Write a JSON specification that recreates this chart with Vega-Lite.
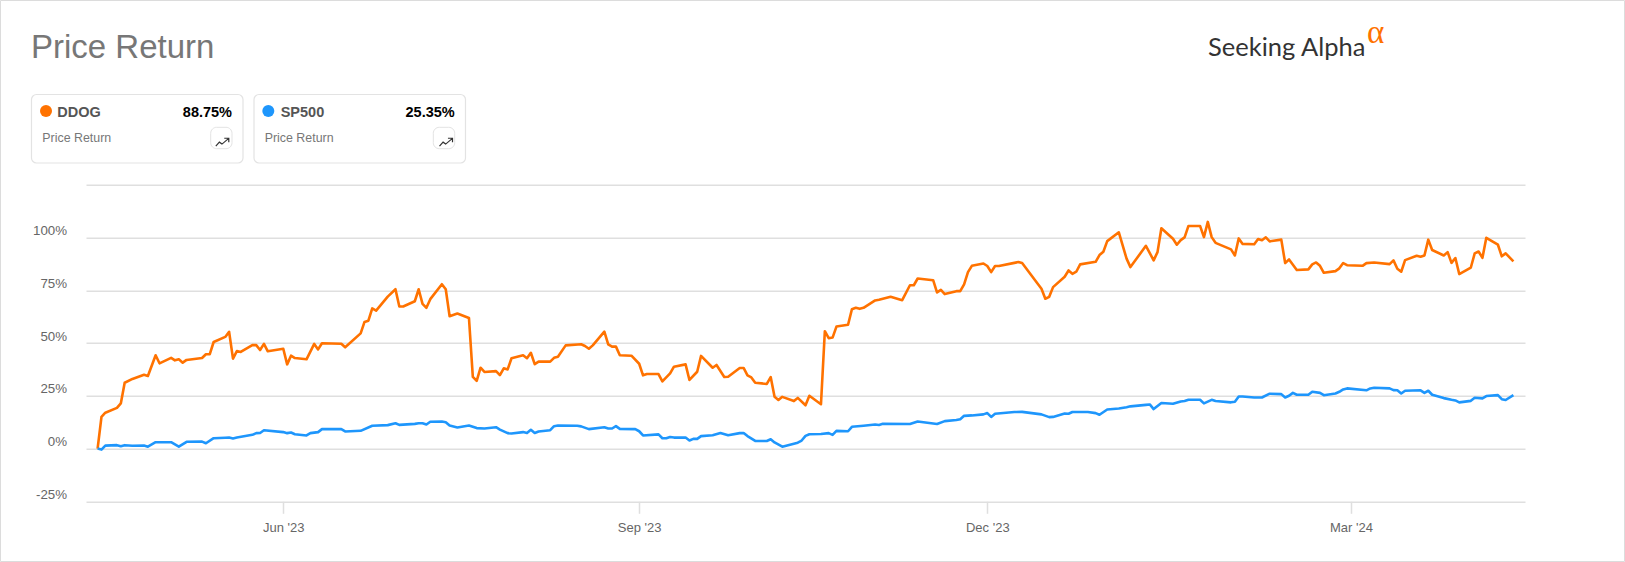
{"$schema":"https://vega.github.io/schema/vega-lite/v6.json","width":1439,"height":316.5,"autosize":"none","padding":{"left":86,"top":184.8,"right":100,"bottom":60.7},"background":"white","view":{"stroke":null},"config":{"font":"Liberation Sans"},
"datasets":{
"DDOG":[{"d":"2023-04-14","v":0},{"d":"2023-04-15","v":15},{"d":"2023-04-16","v":17},{"d":"2023-04-19","v":19.3},{"d":"2023-04-20","v":21.4},{"d":"2023-04-21","v":31.2},{"d":"2023-04-23","v":33},{"d":"2023-04-26","v":35},{"d":"2023-04-27","v":34.4},{"d":"2023-04-29","v":44.2},{"d":"2023-04-30","v":40.4},{"d":"2023-05-03","v":43},{"d":"2023-05-04","v":41.8},{"d":"2023-05-05","v":42.3},{"d":"2023-05-06","v":40.7},{"d":"2023-05-07","v":42},{"d":"2023-05-11","v":42.9},{"d":"2023-05-12","v":44.7},{"d":"2023-05-13","v":44.7},{"d":"2023-05-14","v":50.5},{"d":"2023-05-17","v":52.9},{"d":"2023-05-18","v":55.3},{"d":"2023-05-19","v":42.6},{"d":"2023-05-20","v":46.2},{"d":"2023-05-21","v":45.8},{"d":"2023-05-24","v":49},{"d":"2023-05-25","v":49},{"d":"2023-05-26","v":46.7},{"d":"2023-05-27","v":49.6},{"d":"2023-05-28","v":46.1},{"d":"2023-06-01","v":47.3},{"d":"2023-06-02","v":39.9},{"d":"2023-06-03","v":44},{"d":"2023-06-04","v":42.9},{"d":"2023-06-07","v":42.3},{"d":"2023-06-09","v":49.6},{"d":"2023-06-10","v":47},{"d":"2023-06-11","v":49.9},{"d":"2023-06-16","v":49.7},{"d":"2023-06-17","v":48},{"d":"2023-06-21","v":54.6},{"d":"2023-06-22","v":60},{"d":"2023-06-23","v":60.6},{"d":"2023-06-24","v":66.4},{"d":"2023-06-25","v":65.4},{"d":"2023-06-28","v":72},{"d":"2023-06-30","v":75.5},{"d":"2023-07-01","v":67.3},{"d":"2023-07-02","v":67.3},{"d":"2023-07-05","v":69.8},{"d":"2023-07-06","v":75.5},{"d":"2023-07-07","v":68.6},{"d":"2023-07-08","v":66.7},{"d":"2023-07-09","v":70.8},{"d":"2023-07-12","v":77.9},{"d":"2023-07-13","v":75.5},{"d":"2023-07-14","v":62.7},{"d":"2023-07-16","v":64},{"d":"2023-07-19","v":61.9},{"d":"2023-07-20","v":34},{"d":"2023-07-21","v":32.1},{"d":"2023-07-22","v":38.3},{"d":"2023-07-23","v":36.3},{"d":"2023-07-26","v":36.7},{"d":"2023-07-27","v":34.8},{"d":"2023-07-28","v":38},{"d":"2023-07-29","v":37.5},{"d":"2023-07-30","v":42.8},{"d":"2023-08-02","v":44.2},{"d":"2023-08-03","v":42.8},{"d":"2023-08-04","v":45.4},{"d":"2023-08-05","v":40},{"d":"2023-08-06","v":41.2},{"d":"2023-08-09","v":41.2},{"d":"2023-08-10","v":43},{"d":"2023-08-11","v":43.5},{"d":"2023-08-13","v":48.9},{"d":"2023-08-17","v":49.4},{"d":"2023-08-18","v":48.6},{"d":"2023-08-19","v":47.3},{"d":"2023-08-20","v":48.9},{"d":"2023-08-23","v":55.4},{"d":"2023-08-24","v":49.4},{"d":"2023-08-25","v":48.3},{"d":"2023-08-26","v":48.3},{"d":"2023-08-27","v":44.2},{"d":"2023-08-30","v":44},{"d":"2023-09-01","v":40.2},{"d":"2023-09-02","v":34.7},{"d":"2023-09-03","v":35.3},{"d":"2023-09-06","v":35.3},{"d":"2023-09-07","v":31.8},{"d":"2023-09-09","v":35.6},{"d":"2023-09-10","v":38.8},{"d":"2023-09-13","v":39.9},{"d":"2023-09-14","v":32.5},{"d":"2023-09-16","v":36.4},{"d":"2023-09-17","v":43.9},{"d":"2023-09-20","v":38.3},{"d":"2023-09-21","v":39.6},{"d":"2023-09-23","v":33.9},{"d":"2023-09-24","v":34},{"d":"2023-09-27","v":38.2},{"d":"2023-09-28","v":38.2},{"d":"2023-09-29","v":34.7},{"d":"2023-09-30","v":33.7},{"d":"2023-10-01","v":31.2},{"d":"2023-10-04","v":30.6},{"d":"2023-10-05","v":33.9},{"d":"2023-10-06","v":24.5},{"d":"2023-10-07","v":23},{"d":"2023-10-08","v":24.5},{"d":"2023-10-11","v":22.5},{"d":"2023-10-12","v":24},{"d":"2023-10-14","v":20.5},{"d":"2023-10-15","v":25},{"d":"2023-10-18","v":21},{"d":"2023-10-19","v":55.6},{"d":"2023-10-20","v":52.3},{"d":"2023-10-21","v":52.6},{"d":"2023-10-22","v":57.8},{"d":"2023-10-25","v":58.7},{"d":"2023-10-26","v":66},{"d":"2023-10-27","v":66.7},{"d":"2023-10-28","v":66.2},{"d":"2023-10-29","v":66.7},{"d":"2023-11-01","v":70.2},{"d":"2023-11-02","v":70.5},{"d":"2023-11-05","v":71.9},{"d":"2023-11-08","v":70.3},{"d":"2023-11-10","v":77.4},{"d":"2023-11-11","v":77.4},{"d":"2023-11-12","v":80.6},{"d":"2023-11-16","v":79.8},{"d":"2023-11-17","v":74},{"d":"2023-11-18","v":75.2},{"d":"2023-11-19","v":73.2},{"d":"2023-11-22","v":74.6},{"d":"2023-11-23","v":74.6},{"d":"2023-11-24","v":77.8},{"d":"2023-11-25","v":83.6},{"d":"2023-11-26","v":86.6},{"d":"2023-11-29","v":87.7},{"d":"2023-11-30","v":86.5},{"d":"2023-12-01","v":83.6},{"d":"2023-12-02","v":86.5},{"d":"2023-12-03","v":86.5},{"d":"2023-12-07","v":88},{"d":"2023-12-08","v":88.4},{"d":"2023-12-09","v":87.9},{"d":"2023-12-14","v":75.7},{"d":"2023-12-15","v":71},{"d":"2023-12-16","v":71.9},{"d":"2023-12-17","v":76.5},{"d":"2023-12-20","v":81.4},{"d":"2023-12-21","v":84.4},{"d":"2023-12-22","v":82.8},{"d":"2023-12-23","v":83.8},{"d":"2023-12-24","v":87.3},{"d":"2023-12-28","v":88.5},{"d":"2023-12-29","v":91.7},{"d":"2023-12-30","v":93.3},{"d":"2023-12-31","v":98.3},{"d":"2024-01-03","v":102.5},{"d":"2024-01-05","v":90},{"d":"2024-01-06","v":86},{"d":"2024-01-10","v":96.1},{"d":"2024-01-12","v":89.2},{"d":"2024-01-13","v":93.1},{"d":"2024-01-14","v":104.4},{"d":"2024-01-17","v":99.4},{"d":"2024-01-18","v":96.6},{"d":"2024-01-19","v":98.8},{"d":"2024-01-20","v":100.1},{"d":"2024-01-21","v":105.5},{"d":"2024-01-24","v":105.5},{"d":"2024-01-25","v":100.2},{"d":"2024-01-26","v":107.4},{"d":"2024-01-27","v":100.2},{"d":"2024-01-28","v":97.5},{"d":"2024-02-01","v":94.4},{"d":"2024-02-02","v":91.5},{"d":"2024-02-03","v":99.6},{"d":"2024-02-04","v":97},{"d":"2024-02-07","v":96.8},{"d":"2024-02-08","v":99.3},{"d":"2024-02-09","v":98.7},{"d":"2024-02-10","v":100.1},{"d":"2024-02-11","v":98.2},{"d":"2024-02-14","v":99},{"d":"2024-02-15","v":87.9},{"d":"2024-02-16","v":89.6},{"d":"2024-02-18","v":84.6},{"d":"2024-02-21","v":84.9},{"d":"2024-02-22","v":87.3},{"d":"2024-02-23","v":88.2},{"d":"2024-02-24","v":86.6},{"d":"2024-02-25","v":83.3},{"d":"2024-02-28","v":84.1},{"d":"2024-02-29","v":85.4},{"d":"2024-03-01","v":87.9},{"d":"2024-03-02","v":86.9},{"d":"2024-03-06","v":86.6},{"d":"2024-03-07","v":87.9},{"d":"2024-03-09","v":88.2},{"d":"2024-03-13","v":87.4},{"d":"2024-03-14","v":89.2},{"d":"2024-03-15","v":85.2},{"d":"2024-03-16","v":83.8},{"d":"2024-03-17","v":89.3},{"d":"2024-03-20","v":91.4},{"d":"2024-03-21","v":90.9},{"d":"2024-03-22","v":91.5},{"d":"2024-03-23","v":99},{"d":"2024-03-24","v":94.1},{"d":"2024-03-27","v":91.5},{"d":"2024-03-28","v":93.1},{"d":"2024-03-29","v":88},{"d":"2024-03-30","v":90.3},{"d":"2024-03-31","v":82.7},{"d":"2024-04-03","v":85.8},{"d":"2024-04-04","v":92.5},{"d":"2024-04-05","v":93.4},{"d":"2024-04-06","v":90.4},{"d":"2024-04-07","v":99.9},{"d":"2024-04-10","v":96.6},{"d":"2024-04-11","v":91.1},{"d":"2024-04-12","v":92.5},{"d":"2024-04-14","v":88.75}],
"SP500":[{"d":"2023-04-14","v":0},{"d":"2023-04-15","v":-0.5},{"d":"2023-04-16","v":1.4},{"d":"2023-04-19","v":1.6},{"d":"2023-04-20","v":1.1},{"d":"2023-04-21","v":1.6},{"d":"2023-04-23","v":1.3},{"d":"2023-04-26","v":1.4},{"d":"2023-04-27","v":0.9},{"d":"2023-04-29","v":3},{"d":"2023-05-03","v":3},{"d":"2023-05-05","v":0.9},{"d":"2023-05-07","v":3.2},{"d":"2023-05-11","v":3.3},{"d":"2023-05-12","v":2.5},{"d":"2023-05-14","v":4.9},{"d":"2023-05-17","v":5.1},{"d":"2023-05-18","v":5.2},{"d":"2023-05-19","v":4.8},{"d":"2023-05-20","v":5.2},{"d":"2023-05-24","v":6.5},{"d":"2023-05-25","v":7.3},{"d":"2023-05-26","v":7.4},{"d":"2023-05-27","v":8.7},{"d":"2023-06-01","v":7.8},{"d":"2023-06-02","v":7.3},{"d":"2023-06-03","v":7.6},{"d":"2023-06-04","v":6.8},{"d":"2023-06-07","v":6.2},{"d":"2023-06-08","v":7.3},{"d":"2023-06-10","v":7.8},{"d":"2023-06-11","v":9.2},{"d":"2023-06-16","v":9.2},{"d":"2023-06-17","v":8.1},{"d":"2023-06-21","v":8.4},{"d":"2023-06-24","v":10.8},{"d":"2023-06-28","v":11.1},{"d":"2023-06-30","v":12},{"d":"2023-07-01","v":11.2},{"d":"2023-07-05","v":11.7},{"d":"2023-07-06","v":12},{"d":"2023-07-07","v":12},{"d":"2023-07-08","v":11.4},{"d":"2023-07-09","v":12.7},{"d":"2023-07-12","v":12.8},{"d":"2023-07-13","v":12.5},{"d":"2023-07-14","v":10.9},{"d":"2023-07-16","v":10},{"d":"2023-07-19","v":10.9},{"d":"2023-07-21","v":9.7},{"d":"2023-07-23","v":9.5},{"d":"2023-07-26","v":10.1},{"d":"2023-07-27","v":9},{"d":"2023-07-29","v":7.3},{"d":"2023-07-30","v":7.1},{"d":"2023-08-02","v":7.8},{"d":"2023-08-03","v":7.4},{"d":"2023-08-04","v":8.9},{"d":"2023-08-05","v":7.4},{"d":"2023-08-06","v":8.1},{"d":"2023-08-09","v":8.7},{"d":"2023-08-10","v":10.6},{"d":"2023-08-11","v":10.9},{"d":"2023-08-16","v":10.8},{"d":"2023-08-17","v":10.5},{"d":"2023-08-19","v":9.2},{"d":"2023-08-23","v":10.1},{"d":"2023-08-24","v":9.5},{"d":"2023-08-25","v":9.5},{"d":"2023-08-26","v":10.6},{"d":"2023-08-27","v":9.3},{"d":"2023-08-31","v":9.2},{"d":"2023-09-01","v":8.2},{"d":"2023-09-02","v":6.2},{"d":"2023-09-06","v":6.7},{"d":"2023-09-07","v":4.9},{"d":"2023-09-08","v":4.9},{"d":"2023-09-09","v":5.5},{"d":"2023-09-10","v":5.2},{"d":"2023-09-13","v":5.2},{"d":"2023-09-14","v":3.8},{"d":"2023-09-15","v":4.6},{"d":"2023-09-16","v":4.6},{"d":"2023-09-17","v":5.9},{"d":"2023-09-20","v":6.3},{"d":"2023-09-22","v":7.4},{"d":"2023-09-24","v":6.3},{"d":"2023-09-27","v":7.3},{"d":"2023-09-28","v":7.4},{"d":"2023-09-29","v":5.9},{"d":"2023-10-01","v":3.6},{"d":"2023-10-04","v":3.6},{"d":"2023-10-05","v":4.4},{"d":"2023-10-06","v":2.9},{"d":"2023-10-08","v":0.9},{"d":"2023-10-12","v":2.8},{"d":"2023-10-13","v":3.8},{"d":"2023-10-14","v":6},{"d":"2023-10-15","v":6.8},{"d":"2023-10-18","v":6.9},{"d":"2023-10-20","v":7.3},{"d":"2023-10-21","v":6.5},{"d":"2023-10-22","v":8.4},{"d":"2023-10-25","v":8.2},{"d":"2023-10-26","v":10.3},{"d":"2023-10-29","v":10.8},{"d":"2023-11-01","v":11.4},{"d":"2023-11-02","v":11.2},{"d":"2023-11-03","v":11.7},{"d":"2023-11-10","v":11.6},{"d":"2023-11-12","v":12.8},{"d":"2023-11-17","v":11.6},{"d":"2023-11-19","v":13},{"d":"2023-11-22","v":13.5},{"d":"2023-11-23","v":13.9},{"d":"2023-11-24","v":15.5},{"d":"2023-11-26","v":15.7},{"d":"2023-11-29","v":16.2},{"d":"2023-11-30","v":16.8},{"d":"2023-12-01","v":15},{"d":"2023-12-02","v":16.5},{"d":"2023-12-07","v":17.3},{"d":"2023-12-09","v":17.4},{"d":"2023-12-14","v":16.2},{"d":"2023-12-16","v":14.9},{"d":"2023-12-17","v":15},{"d":"2023-12-20","v":16.6},{"d":"2023-12-21","v":16.5},{"d":"2023-12-22","v":17.3},{"d":"2023-12-26","v":17.3},{"d":"2023-12-28","v":16.8},{"d":"2023-12-29","v":16},{"d":"2023-12-31","v":18.5},{"d":"2024-01-03","v":19},{"d":"2024-01-05","v":19.6},{"d":"2024-01-06","v":20},{"d":"2024-01-10","v":20.7},{"d":"2024-01-11","v":20.9},{"d":"2024-01-12","v":18.7},{"d":"2024-01-14","v":21.6},{"d":"2024-01-17","v":21.2},{"d":"2024-01-19","v":22.3},{"d":"2024-01-20","v":22.5},{"d":"2024-01-21","v":23.1},{"d":"2024-01-24","v":23.1},{"d":"2024-01-25","v":21.4},{"d":"2024-01-27","v":23.1},{"d":"2024-01-28","v":22.5},{"d":"2024-02-01","v":21.9},{"d":"2024-02-02","v":22.2},{"d":"2024-02-03","v":24.7},{"d":"2024-02-04","v":24.7},{"d":"2024-02-07","v":24.2},{"d":"2024-02-09","v":24.2},{"d":"2024-02-11","v":26},{"d":"2024-02-14","v":25.8},{"d":"2024-02-15","v":24.2},{"d":"2024-02-16","v":25},{"d":"2024-02-17","v":26.4},{"d":"2024-02-18","v":25.5},{"d":"2024-02-21","v":25.5},{"d":"2024-02-22","v":26.9},{"d":"2024-02-24","v":26.4},{"d":"2024-02-25","v":25.3},{"d":"2024-02-28","v":26.1},{"d":"2024-02-29","v":26.9},{"d":"2024-03-01","v":28},{"d":"2024-03-02","v":28.5},{"d":"2024-03-07","v":27.6},{"d":"2024-03-08","v":28.5},{"d":"2024-03-09","v":28.8},{"d":"2024-03-13","v":28.5},{"d":"2024-03-14","v":27.7},{"d":"2024-03-15","v":27.6},{"d":"2024-03-16","v":26.1},{"d":"2024-03-17","v":27.4},{"d":"2024-03-21","v":27.6},{"d":"2024-03-22","v":26.4},{"d":"2024-03-23","v":27.4},{"d":"2024-03-24","v":25.5},{"d":"2024-03-27","v":23.9},{"d":"2024-03-29","v":23.1},{"d":"2024-03-30","v":22.8},{"d":"2024-03-31","v":21.9},{"d":"2024-04-03","v":22.6},{"d":"2024-04-04","v":24.1},{"d":"2024-04-06","v":23.8},{"d":"2024-04-07","v":24.9},{"d":"2024-04-10","v":25.3},{"d":"2024-04-11","v":23.4},{"d":"2024-04-12","v":23},{"d":"2024-04-14","v":25.35}]
},
"layer":[
{"data":{"values":[{"k":"frame"}]},"mark":{"type":"rect","fill":"transparent","stroke":"#dcdcdc","strokeWidth":1},"encoding":{"x":{"value":-85.5},"x2":{"value":1538.5},"y":{"value":-184.3},"y2":{"value":376.7}}},
{"data":{"name":"DDOG"},"mark":{"type":"line","color":"#FF7200","strokeWidth":2.6,"strokeJoin":"round"},"encoding":{
"x":{"field":"d","type":"temporal","scale":{"domain":["2023-04-11","2024-04-17"]},"title":null,"axis":{"values":["2023-06-01","2023-09-01","2023-11-30","2024-03-03"],"labelExpr":"timeFormat(time(datum.value)+172800000,\"%b '%y\")","domain":false,"grid":false,"tickSize":12,"tickColor":"#dfdfdf","tickWidth":1.5,"labelColor":"#666666","labelFontSize":13,"labelFont":"Liberation Sans","labelPadding":8,"labelAlign":"center","labelFlush":false}},
"y":{"field":"v","type":"quantitative","scale":{"domain":[-25,125],"nice":false},"title":null,"axis":{"values":[-25,0,25,50,75,100,125],"labelExpr":"datum.value==125?'':datum.value+'%'","domain":false,"ticks":false,"grid":true,"gridColor":"#dfdfdf","gridWidth":1.5,"labelColor":"#666666","labelFontSize":13.3,"labelFont":"Liberation Sans","labelPadding":19.5,"labelOffset":-7,"labelAlign":"right"}}}},
{"data":{"name":"SP500"},"mark":{"type":"line","color":"#1E96FC","strokeWidth":2.6,"strokeJoin":"round"},"encoding":{"x":{"field":"d","type":"temporal"},"y":{"field":"v","type":"quantitative"}}},
{"data":{"values":[{"t":"Price Return"}]},"mark":{"type":"text","align":"left","baseline":"alphabetic","fontSize":33,"color":"#777777","font":"Liberation Sans"},"encoding":{"x":{"value":-55},"y":{"value":-126.8},"text":{"field":"t"}}},
{"data":{"values":[{"t":"Seeking Alpha"}]},"mark":{"type":"text","align":"left","baseline":"alphabetic","fontSize":25.5,"color":"#333333","font":"Lato"},"encoding":{"x":{"value":1122},"y":{"value":-128.5},"text":{"field":"t"}}},
{"data":{"values":[{"t":"α"}]},"mark":{"type":"text","align":"left","baseline":"alphabetic","fontSize":33,"color":"#FF7200","font":"Liberation Serif"},"encoding":{"x":{"value":1281},"y":{"value":-142},"text":{"field":"t"}}},
{"data":{"values":[{"k":"card"}]},"mark":{"type":"rect","fill":"white","stroke":"#e3e3e3","strokeWidth":1.2,"cornerRadius":5},"encoding":{"x":{"value":-54.5},"x2":{"value":157},"y":{"value":-90.3},"y2":{"value":-21.8}}},
{"data":{"values":[{"k":"card"}]},"mark":{"type":"rect","fill":"white","stroke":"#e3e3e3","strokeWidth":1.2,"cornerRadius":5},"encoding":{"x":{"value":168},"x2":{"value":379.5},"y":{"value":-90.3},"y2":{"value":-21.8}}},
{"data":{"values":[{"k":"box"}]},"mark":{"type":"rect","fill":"white","stroke":"#e3e3e3","strokeWidth":1,"cornerRadius":6},"encoding":{"x":{"value":124.7},"x2":{"value":146},"y":{"value":-57.5},"y2":{"value":-36.1}}},
{"data":{"values":[{"k":"box"}]},"mark":{"type":"rect","fill":"white","stroke":"#e3e3e3","strokeWidth":1,"cornerRadius":6},"encoding":{"x":{"value":347.3},"x2":{"value":368.7},"y":{"value":-57.5},"y2":{"value":-36.1}}},
{"data":{"values":[{"k":"dot"}]},"mark":{"type":"point","shape":"circle","filled":true,"opacity":1,"size":144,"color":"#FF7200"},"encoding":{"x":{"value":-40},"y":{"value":-73.8}}},
{"data":{"values":[{"k":"dot"}]},"mark":{"type":"point","shape":"circle","filled":true,"opacity":1,"size":144,"color":"#1E96FC"},"encoding":{"x":{"value":182.3},"y":{"value":-73.8}}},
{"data":{"values":[{"t":"DDOG"}]},"mark":{"type":"text","align":"left","baseline":"alphabetic","fontSize":14.5,"fontWeight":"bold","color":"#555555","font":"Liberation Sans"},"encoding":{"x":{"value":-28.7},"y":{"value":-67.5},"text":{"field":"t"}}},
{"data":{"values":[{"t":"SP500"}]},"mark":{"type":"text","align":"left","baseline":"alphabetic","fontSize":14.5,"fontWeight":"bold","color":"#555555","font":"Liberation Sans"},"encoding":{"x":{"value":194.7},"y":{"value":-67.5},"text":{"field":"t"}}},
{"data":{"values":[{"t":"88.75%"}]},"mark":{"type":"text","align":"right","baseline":"alphabetic","fontSize":14.5,"fontWeight":"bold","color":"#000000","font":"Liberation Sans"},"encoding":{"x":{"value":146},"y":{"value":-67.5},"text":{"field":"t"}}},
{"data":{"values":[{"t":"25.35%"}]},"mark":{"type":"text","align":"right","baseline":"alphabetic","fontSize":14.5,"fontWeight":"bold","color":"#000000","font":"Liberation Sans"},"encoding":{"x":{"value":368.7},"y":{"value":-67.5},"text":{"field":"t"}}},
{"data":{"values":[{"t":"Price Return"}]},"mark":{"type":"text","align":"left","baseline":"alphabetic","fontSize":12.4,"color":"#777777","font":"Liberation Sans"},"encoding":{"x":{"value":-43.7},"y":{"value":-43.1},"text":{"field":"t"}}},
{"data":{"values":[{"t":"Price Return"}]},"mark":{"type":"text","align":"left","baseline":"alphabetic","fontSize":12.4,"color":"#777777","font":"Liberation Sans"},"encoding":{"x":{"value":178.7},"y":{"value":-43.1},"text":{"field":"t"}}},
{"data":{"values":[{"k":"icon"}]},"mark":{"type":"point","filled":false,"opacity":1,"size":169,"strokeWidth":1.2,"color":"#333333","shape":"M-1 0.7L-0.45 0.1L-0.05 0.4L0.9 -0.4M0.3 -0.5L1 -0.5L1 0.1"},"encoding":{"x":{"value":136.3},"y":{"value":-43.3}}},
{"data":{"values":[{"k":"icon"}]},"mark":{"type":"point","filled":false,"opacity":1,"size":169,"strokeWidth":1.2,"color":"#333333","shape":"M-1 0.7L-0.45 0.1L-0.05 0.4L0.9 -0.4M0.3 -0.5L1 -0.5L1 0.1"},"encoding":{"x":{"value":360},"y":{"value":-43.3}}}
]}
